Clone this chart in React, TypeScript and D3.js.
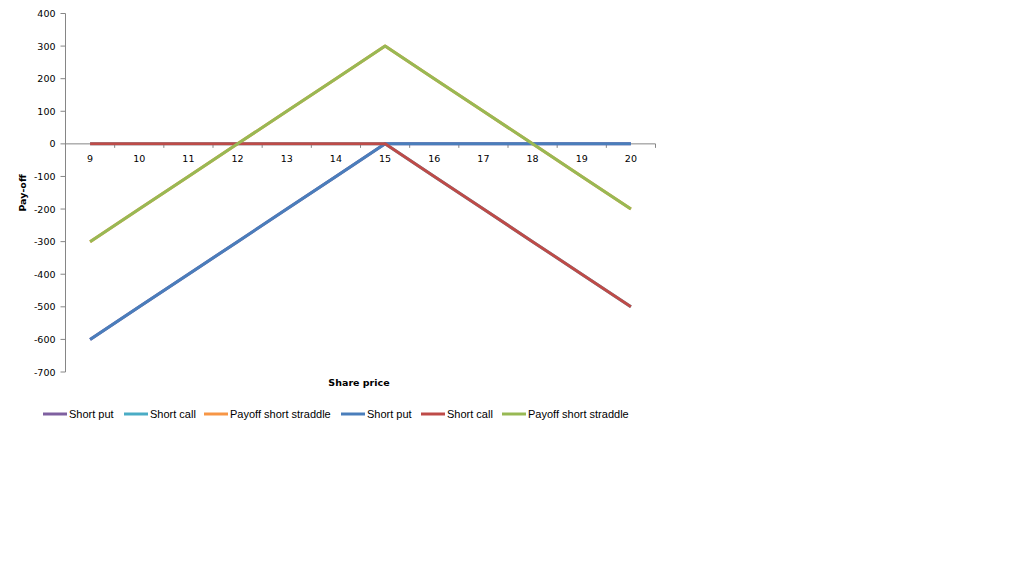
import * as d3 from 'd3';
import React, { useEffect, useRef } from 'react';

// share prices on the category axis
const sharePrices = [9, 10, 11, 12, 13, 14, 15, 16, 17, 18, 19, 20];

// pay-off values
const shortPut = [-600, -500, -400, -300, -200, -100, 0, 0, 0, 0, 0, 0];
const shortCall = [0, 0, 0, 0, 0, 0, 0, -100, -200, -300, -400, -500];
const payoffStraddle = [-300, -200, -100, 0, 100, 200, 300, 200, 100, 0, -100, -200];

const yTicks = [400, 300, 200, 100, 0, -100, -200, -300, -400, -500, -600, -700];

// the first three series are in the legend but sit under the visible ones
const series = [
  { name: 'Short put', color: '#7F60A0', values: shortPut },
  { name: 'Short call', color: '#4AACC5', values: shortCall },
  { name: 'Payoff short straddle', color: '#F79646', values: payoffStraddle },
  { name: 'Short put', color: '#4A7EBB', values: shortPut },
  { name: 'Short call', color: '#BE4B48', values: shortCall },
  { name: 'Payoff short straddle', color: '#98B954', values: payoffStraddle }
];

const legendX = [43, 124, 204, 341, 421, 502];

const App: React.FC = () => {
  const ref = useRef<SVGSVGElement>(null);

  useEffect(() => {
    const svg = d3.select(ref.current);
    svg.selectAll('*').remove();

    const left = 65.5;
    const right = 655.5;
    const y = d3.scaleLinear().domain([-700, 400]).range([372, 13.5]);
    const x = d3
      .scaleBand<number>()
      .domain(sharePrices)
      .range([left, right]);
    const cx = (d: number) => (x(d) as number) + x.bandwidth() / 2;
    const axisColor = '#868686';
    const font = 'DejaVu Sans, Verdana, sans-serif';

    // y axis
    const yAxis = svg.append('g');
    yAxis
      .append('line')
      .attr('x1', left)
      .attr('x2', left)
      .attr('y1', y(400))
      .attr('y2', y(-700))
      .attr('stroke', axisColor);
    yTicks.forEach((t) => {
      yAxis
        .append('line')
        .attr('x1', left - 5)
        .attr('x2', left)
        .attr('y1', y(t))
        .attr('y2', y(t))
        .attr('stroke', axisColor);
      yAxis
        .append('text')
        .attr('x', left - 10)
        .attr('y', y(t) + 3.5)
        .attr('text-anchor', 'end')
        .attr('font-family', font)
        .attr('font-size', 9.5)
        .attr('fill', '#000')
        .text(t);
    });

    // x axis at zero, ticks between categories
    const xAxis = svg.append('g');
    xAxis
      .append('line')
      .attr('x1', left)
      .attr('x2', right)
      .attr('y1', y(0))
      .attr('y2', y(0))
      .attr('stroke', axisColor);
    [...sharePrices.map((d) => x(d) as number), right].forEach((p) => {
      xAxis
        .append('line')
        .attr('x1', p)
        .attr('x2', p)
        .attr('y1', y(0))
        .attr('y2', y(0) + 4)
        .attr('stroke', axisColor);
    });
    sharePrices.forEach((d) => {
      xAxis
        .append('text')
        .attr('x', cx(d))
        .attr('y', y(0) + 18.5)
        .attr('text-anchor', 'middle')
        .attr('font-family', font)
        .attr('font-size', 9.5)
        .attr('fill', '#000')
        .text(d);
    });

    // lines
    const line = d3
      .line<number>()
      .x((_d, i) => cx(sharePrices[i]))
      .y((d) => y(d));
    series.forEach((s) => {
      svg
        .append('path')
        .attr('d', line(s.values))
        .attr('fill', 'none')
        .attr('stroke', s.color)
        .attr('stroke-width', 3)
        .attr('stroke-linejoin', 'round');
    });

    // axis titles
    svg
      .append('text')
      .attr('x', 359)
      .attr('y', 386)
      .attr('text-anchor', 'middle')
      .attr('font-family', font)
      .attr('font-weight', 'bold')
      .attr('font-size', 9.5)
      .text('Share price');
    svg
      .append('text')
      .attr('transform', 'translate(26,193) rotate(-90)')
      .attr('text-anchor', 'middle')
      .attr('font-family', font)
      .attr('font-weight', 'bold')
      .attr('font-size', 9.5)
      .text('Pay-off');

    // legend
    const legend = svg.append('g');
    series.forEach((s, i) => {
      legend
        .append('line')
        .attr('x1', legendX[i])
        .attr('x2', legendX[i] + 24)
        .attr('y1', 414)
        .attr('y2', 414)
        .attr('stroke', s.color)
        .attr('stroke-width', 3);
      legend
        .append('text')
        .attr('x', legendX[i] + 26)
        .attr('y', 418)
        .attr('font-family', 'Liberation Sans, Arial, sans-serif')
        .attr('font-size', 11)
        .attr('fill', '#000')
        .text(s.name);
    });
  }, []);

  return (
    <svg
      ref={ref}
      width={1030}
      height={579}
      style={{ position: 'absolute', left: 0, top: 0, background: '#fff' }}
    ></svg>
  );
};

export default App;
